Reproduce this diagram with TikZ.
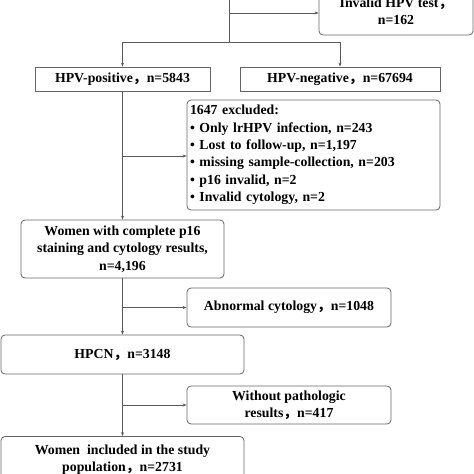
\documentclass[tikz,border=0pt]{standalone}
\usepackage{fontspec}
\setmainfont{Liberation Serif}
\newfontfamily\cjk{Noto Sans CJK SC}
\usetikzlibrary{arrows.meta}
\newcommand{\fwc}{{\cjk ，}}
\begin{document}
\begin{tikzpicture}[x=1pt,y=-1pt,
  font=\fontsize{13.8}{17.4}\selectfont\bfseries,
  box/.style={draw=black!60, line width=0.8pt, rounded corners=4pt, inner sep=2pt, align=center},
  sbox/.style={draw=black!60, line width=0.8pt, inner sep=2pt, align=center},
  conn/.style={draw=black!65, line width=0.8pt},
  arr/.style={conn, -{Stealth[length=4pt,width=3pt]}}]
\useasboundingbox (0,0) rectangle (474,474);
% boxes
\node[box, minimum width=154pt, minimum height=48pt] (invalid) at (396,11) {Invalid HPV test\fwc\\n=162};
\node[sbox, minimum width=175pt, minimum height=24pt] (hpvpos) at (122.5,79) {HPV-positive\fwc n=5843};
\node[sbox, minimum width=200pt, minimum height=24pt] (hpvneg) at (340,79) {HPV-negative\fwc n=67694};
\node[box, minimum width=253pt, minimum height=110pt, text width=247pt, align=left] (excl) at (313.5,155) {1647 excluded:\\
• Only lrHPV infection, n=243\\
• Lost to follow-up, n=1,197\\
• missing sample-collection, n=203\\
• p16 invalid, n=2\\
• Invalid cytology, n=2};
\node[box, minimum width=203pt, minimum height=58pt] (complete) at (122.5,249) {Women with complete p16\\staining and cytology results,\\n=4,196};
\node[box, minimum width=204pt, minimum height=39pt] (abn) at (289,307.5) {Abnormal cytology\fwc n=1048};
\node[box, minimum width=243pt, minimum height=39pt] (hpcn) at (122.5,354.5) {HPCN\fwc n=3148};
\node[box, minimum width=204pt, minimum height=38pt] (without) at (289,405) {Without pathologic\\results\fwc n=417};
\node[box, minimum width=243pt, minimum height=46pt] (incl) at (122.5,459.5) {Women\ \ included in the study\\population\fwc n=2731};
% connectors
\coordinate (top) at (229,-5);
\coordinate (split) at (229,42);
\coordinate (b1) at (229,13);
\draw[conn] (top) -- (split);
\draw[arr] (b1) -- (b1 -| invalid.west);
\draw[conn] (split -| hpvpos.north) -- (split -| hpvneg.north);
\draw[arr] (split -| hpvpos.north) -- (hpvpos.north);
\draw[arr] (split -| hpvneg.north) -- (hpvneg.north);
\draw[arr] (hpvpos.south) -- (complete.north);
\coordinate (b2) at (122.5,156);
\draw[arr] (b2) -- (b2 -| excl.west);
\draw[arr] (complete.south) -- (hpcn.north);
\coordinate (b3) at (122.5,307.5);
\draw[arr] (b3) -- (b3 -| abn.west);
\draw[arr] (hpcn.south) -- (incl.north);
\coordinate (b4) at (122.5,405);
\draw[arr] (b4) -- (b4 -| without.west);
\end{tikzpicture}
\end{document}
